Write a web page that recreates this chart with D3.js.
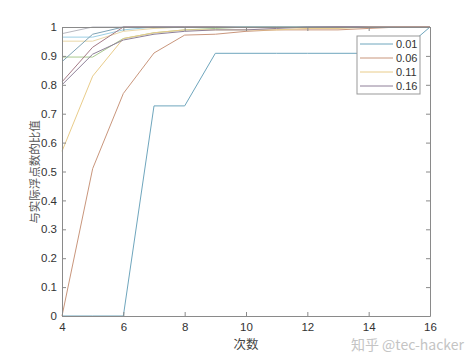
<!DOCTYPE html>
<html>
<head>
<meta charset="utf-8">
<script src="https://cdn.jsdelivr.net/npm/d3@7"></script>
<style>
  html, body { margin: 0; padding: 0; background: #fff; }
  svg { display: block; }
</style>
</head>
<body>
<svg id="chart" width="474" height="355"></svg>
<script>
// ---- data ----
const xValues = [4, 5, 6, 7, 8, 9, 10, 11, 12, 13, 14, 15, 16];
const seriesLabels = ["0.01", "0.06", "0.11", "0.16"];
const series001 = [0, 0, 0, 0.727, 0.727, 0.909, 0.909, 0.909, 0.909, 0.909, 0.909, 0.909, 1];
const series006 = [0, 0.51, 0.77, 0.91, 0.972, 0.975, 0.985, 0.99, 0.99, 0.99, 0.995, 1, 1];
const series011 = [0.57, 0.83, 0.96, 0.98, 0.99, 0.99, 0.99, 0.99, 0.995, 0.995, 1, 1, 1];
const series016 = [0.80, 0.906, 0.955, 0.975, 0.985, 0.99, 0.99, 0.995, 1, 1, 1, 1, 1];
// extra unlabeled curves visible in the figure
const extraA = [0.965, 0.965, 0.99, 1, 1, 1, 1, 1, 1, 1, 1, 1, 1];
const extraB = [0.951, 0.951, 0.985, 0.995, 1, 1, 1, 1, 1, 1, 1, 1, 1];
const extraC = [0.896, 0.896, 0.96, 0.98, 0.99, 0.995, 1, 1, 1, 1, 1, 1, 1];
const extraD = [0.977, 1, 1, 1, 1, 1, 1, 1, 1, 1, 1, 1, 1];
const extraE = [0.88, 0.975, 1, 1, 1, 1, 1, 1, 1, 1, 1, 1, 1];
const extraF = [0.81, 0.93, 1, 1, 1, 1, 0.998, 0.998, 0.998, 1, 1, 1, 1];
const xTicks = [4, 6, 8, 10, 12, 14, 16];
const yTicks = [0, 0.1, 0.2, 0.3, 0.4, 0.5, 0.6, 0.7, 0.8, 0.9, 1];

const mainSeries = [series001, series006, series011, series016];
const mainColors = ["#6fa6bd", "#c9967c", "#e9cc8a", "#8e7f98"];
const extraSeries = [extraA, extraB, extraC, extraD, extraE, extraF];
const extraColors = ["#9ccfe4", "#ead8a8", "#a9c98f", "#b8b8c0", "#7fa3b5", "#a57a86"];

// ---- layout ----
const svg = d3.select("#chart");
const x = d3.scaleLinear().domain([4, 16]).range([62, 430]);
const y = d3.scaleLinear().domain([0, 1]).range([316, 27]);
const axisColor = "#8a8a8a";
const textColor = "#333";
const font = "'Liberation Sans', Arial, sans-serif";

const line = d3.line().x((d, i) => x(xValues[i])).y(d => y(d));

// lines
const g = svg.append("g");
extraSeries.forEach((s, k) => {
  g.append("path").datum(s).attr("d", line)
    .attr("fill", "none").attr("stroke", extraColors[k]).attr("stroke-width", 1);
});
mainSeries.forEach((s, k) => {
  g.append("path").datum(s).attr("d", line)
    .attr("fill", "none").attr("stroke", mainColors[k]).attr("stroke-width", 1);
});

// axes
function styleAxis(sel) {
  sel.select(".domain").attr("stroke", axisColor);
  sel.selectAll(".tick line").attr("stroke", axisColor);
  sel.selectAll(".tick text").attr("fill", textColor)
    .style("font-family", font).style("font-size", "11.5px");
}
svg.append("g").attr("transform", "translate(62,0)")
  .call(d3.axisLeft(y).tickValues(yTicks).tickFormat(d3.format("~g"))
    .tickSizeInner(-4).tickSizeOuter(0).tickPadding(5))
  .call(styleAxis);
svg.append("g").attr("transform", "translate(430,0)")
  .call(d3.axisRight(y).tickValues(yTicks).tickFormat("")
    .tickSizeInner(-4).tickSizeOuter(0))
  .call(styleAxis);
svg.append("g").attr("transform", "translate(0,316)")
  .call(d3.axisBottom(x).tickValues(xTicks).tickFormat(d3.format("d"))
    .tickSizeInner(-4).tickSizeOuter(0).tickPadding(7))
  .call(styleAxis);
svg.append("g").attr("transform", "translate(0,27)")
  .call(d3.axisTop(x).tickValues(xTicks).tickFormat("")
    .tickSizeInner(-4).tickSizeOuter(0))
  .call(styleAxis);

// axis labels
svg.append("text")
  .attr("transform", "translate(34,172) rotate(-90)")
  .attr("text-anchor", "middle").attr("dominant-baseline", "central")
  .attr("fill", "#555")
  .style("font-family", "'Noto Sans CJK SC', sans-serif").style("font-size", "11.5px")
  .text("与实际浮点数的比值");
svg.append("text")
  .attr("x", 246).attr("y", 343)
  .attr("text-anchor", "middle").attr("dominant-baseline", "central")
  .attr("fill", "#444")
  .style("font-family", "'Noto Sans CJK SC', sans-serif").style("font-size", "12.5px")
  .text("次数");

// legend
const lg = svg.append("g");
lg.append("rect").attr("x", 357).attr("y", 36).attr("width", 63).attr("height", 58)
  .attr("fill", "#fff").attr("stroke", "#999").attr("stroke-width", 1);
seriesLabels.forEach((lab, k) => {
  const yy = 44 + k * 14;
  lg.append("line").attr("x1", 360).attr("x2", 393).attr("y1", yy).attr("y2", yy)
    .attr("stroke", mainColors[k]).attr("stroke-width", 1);
  lg.append("text").attr("x", 396).attr("y", yy).attr("dominant-baseline", "central")
    .attr("fill", textColor).style("font-family", font).style("font-size", "11px")
    .text(lab);
});

// watermark (kept clear of the tick labels)
svg.append("text")
  .attr("x", 464).attr("y", 344).attr("text-anchor", "end").attr("dominant-baseline", "central")
  .attr("fill", "#c4c4c4")
  .style("font-family", "'Noto Sans CJK SC', sans-serif").style("font-size", "14px")
  .text("知乎 @tec-hacker");
</script>
</body>
</html>
